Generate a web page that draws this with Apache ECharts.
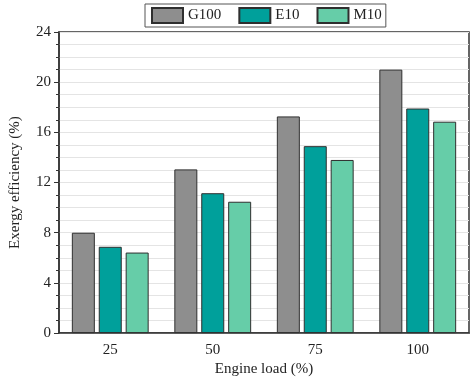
<!DOCTYPE html>
<html>
<head>
<meta charset="utf-8">
<script src="https://cdn.jsdelivr.net/npm/echarts@6/dist/echarts.min.js"></script>
<style>html,body{margin:0;padding:0;background:#fff;}#c{width:474px;height:382px;}</style>
</head>
<body>
<div id="c"></div>
<script>
var categories = ['25', '50', '75', '100'];
var seriesNames = ['G100', 'E10', 'M10'];
var g100 = [8.0, 13.05, 17.27, 21.0];
var e10 = [6.88, 11.15, 14.9, 17.9];
var m10 = [6.42, 10.47, 13.8, 16.85];
var colors = ['#8e8e8e', '#00a09b', '#66cda8'];
var font = 'Liberation Serif';

var chart = echarts.init(document.getElementById('c'));
function bar(name, data, color) {
  return {
    name: name, type: 'bar', data: data, barWidth: 23, barGap: '17%',
    itemStyle: { color: color, borderColor: '#2f2f2f', borderWidth: 1 }
  };
}
chart.setOption({
  animation: false,
  textStyle: { fontFamily: font },
  legend: {
    left: 145, top: 4,
    data: seriesNames,
    icon: 'rect',
    itemWidth: 31, itemHeight: 15, itemGap: 17,
    borderColor: '#555', borderWidth: 1, padding: [3, 4, 3, 6],
    textStyle: { fontFamily: font, fontSize: 15, color: '#222' }
  },
  grid: { left: 56, right: 5, top: 32, bottom: 43, show: true, borderColor: '#333', borderWidth: 1.5, containLabel: false },
  xAxis: {
    type: 'category', data: categories,
    name: 'Engine load (%)', nameLocation: 'middle', nameGap: 28,
    nameTextStyle: { fontFamily: font, fontSize: 15, color: '#222' },
    axisLine: { lineStyle: { color: '#333', width: 1.5 } },
    axisTick: { alignWithLabel: true, length: 5, lineStyle: { color: '#333' } },
    axisLabel: { fontFamily: font, fontSize: 15, color: '#222', margin: 9 }
  },
  yAxis: {
    type: 'value', min: 0, max: 24, interval: 4,
    name: 'Exergy efficiency (%)', nameLocation: 'middle', nameGap: 36,
    nameTextStyle: { fontFamily: font, fontSize: 15, color: '#222' },
    axisLine: { show: true, lineStyle: { color: '#333', width: 1.5 } },
    axisTick: { show: true, length: 5, lineStyle: { color: '#333' } },
    minorTick: { show: true, splitNumber: 4, length: 3, lineStyle: { color: '#333' } },
    splitLine: { show: true, lineStyle: { color: '#e4e4e4', width: 1 } },
    minorSplitLine: { show: true, lineStyle: { color: '#e4e4e4', width: 1 } },
    axisLabel: { fontFamily: font, fontSize: 15, color: '#222', margin: 8 }
  },
  series: [bar(seriesNames[0], g100, colors[0]), bar(seriesNames[1], e10, colors[1]), bar(seriesNames[2], m10, colors[2])]
});
</script>
</body>
</html>
